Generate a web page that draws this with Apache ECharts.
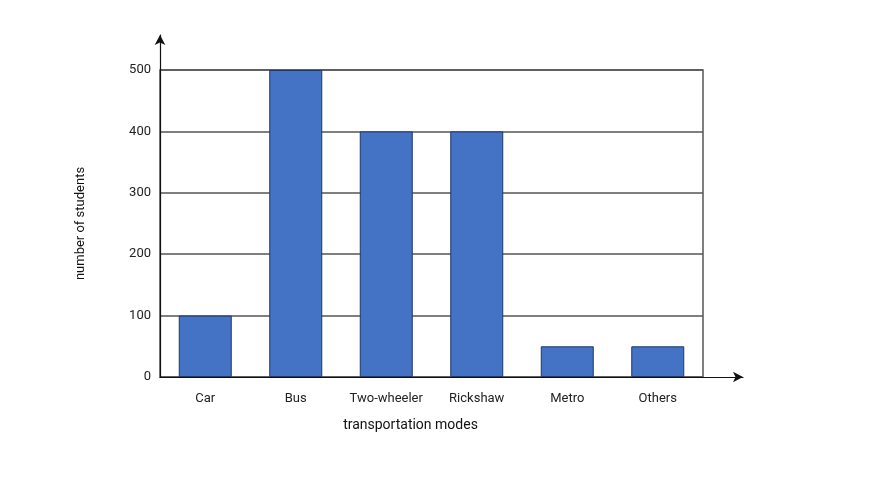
<!DOCTYPE html>
<html>
<head>
<meta charset="utf-8">
<style>
  html, body { margin: 0; padding: 0; background: #fff; }
  #chart { width: 871px; height: 481px; }
</style>
<script src="https://cdn.jsdelivr.net/npm/echarts@6/dist/echarts.min.js"></script>
</head>
<body>
<div id="chart"></div>
<script>
// data
var modes = ['Car', 'Bus', 'Two-wheeler', 'Rickshaw', 'Metro', 'Others'];
var students = [100, 500, 400, 400, 50, 50];
var yTicks = [0, 100, 200, 300, 400, 500];

var myChart = echarts.init(document.getElementById('chart'));

var labelFont = { fontFamily: 'Roboto, Arial, sans-serif', fontSize: 13, color: '#222' };

var option = {
    animation: false,
    grid: [
        // plotting area
        { left: 160, right: 168, top: 70, bottom: 104, show: true, borderColor: '#555', borderWidth: 1.5 },
        // only used to draw the long arrow axes
        { left: 160, right: 128, top: 35, bottom: 104 }
    ],
    xAxis: [{
        type: 'category',
        gridIndex: 0,
        data: modes,
        axisLine: { show: false },
        axisTick: { show: false },
        axisLabel: Object.assign({ margin: 15, interval: 0, hideOverlap: false }, labelFont),
        name: 'transportation modes',
        nameLocation: 'middle',
        nameGap: 39,
        nameTextStyle: { fontFamily: 'Roboto, Arial, sans-serif', fontSize: 14, color: '#111', padding: [2, 42, 0, 0] }
    }, {
        type: 'value',
        gridIndex: 1,
        axisLine: { show: true, lineStyle: { color: '#111', width: 1.2 }, symbol: ['none', 'arrow'], symbolSize: [8, 10] },
        axisTick: { show: false },
        axisLabel: { show: false },
        splitLine: { show: false }
    }],
    yAxis: [{
        type: 'value',
        gridIndex: 0,
        min: yTicks[0],
        max: yTicks[yTicks.length - 1],
        interval: 100,
        axisLine: { show: false },
        axisTick: { show: false },
        axisLabel: Object.assign({ margin: 9 }, labelFont),
        splitLine: { lineStyle: { color: '#555', width: 1.5 } },
        name: 'number of students',
        nameLocation: 'middle',
        nameGap: 73,
        nameTextStyle: { fontFamily: 'Roboto, Arial, sans-serif', fontSize: 13, color: '#111' }
    }, {
        type: 'value',
        gridIndex: 1,
        axisLine: { show: true, lineStyle: { color: '#111', width: 1.2 }, symbol: ['none', 'arrow'], symbolSize: [8, 10] },
        axisTick: { show: false },
        axisLabel: { show: false },
        splitLine: { show: false }
    }],
    series: [{
        type: 'bar',
        xAxisIndex: 0,
        yAxisIndex: 0,
        data: students,
        barWidth: 53,
        itemStyle: { color: '#4472C4', borderColor: '#1F3864', borderWidth: 1 }
    }]
};

myChart.setOption(option);
</script>
</body>
</html>
